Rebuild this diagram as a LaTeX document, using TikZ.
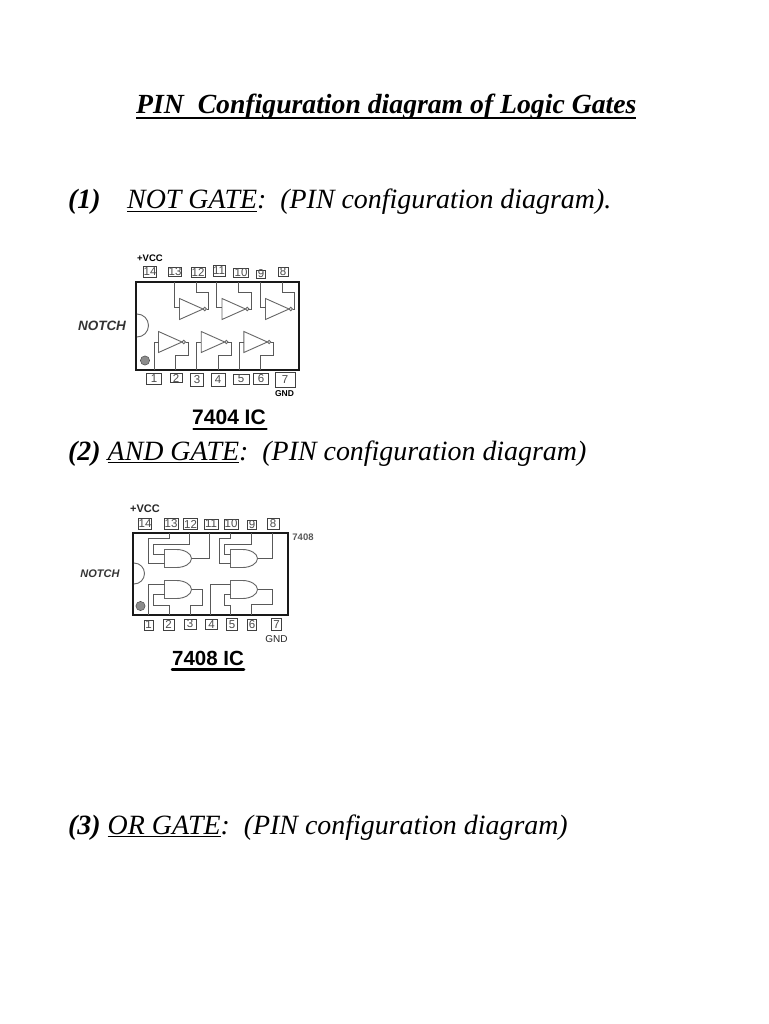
\documentclass[tikz,border=0pt]{standalone}
\usepackage{fontspec}
\setmainfont{Liberation Serif}
\setsansfont{Liberation Sans}
\newcommand{\ulx}[1]{\setbox0=\hbox{#1}\rlap{\rule[-3.2pt]{\wd0}{1.4pt}}\box0}
\newcommand{\ulxt}[1]{\setbox0=\hbox{#1}\rlap{\rule[-4.6pt]{\wd0}{2pt}}\box0}
\tikzset{
  x=1pt,y=-1pt,
  doc/.style={anchor=base west,inner sep=0pt,font=\fontsize{27.9}{30}\selectfont\itshape},
  wire/.style={draw=black!65,line width=1pt},
  chip/.style={draw=black!90,line width=2pt},
  gatebody/.style={draw=black!60,line width=0.9pt},
  pinbox/.style={draw=black!75,line width=0.8pt,inner sep=0pt,font=\sffamily\fontsize{11.5}{11.5}\selectfont,text=black!70},
  lab/.style={inner sep=0pt,font=\sffamily\bfseries\fontsize{8}{8}\selectfont},
  notch/.style={inner sep=0pt,font=\sffamily\bfseries\itshape\fontsize{11}{11}\selectfont,text=black!80},
  icname/.style={inner sep=0pt,font=\sffamily\bfseries\fontsize{21}{21}\selectfont},
  icline/.style={line width=2.5pt,line cap=round},
}
\newcommand{\pinn}[6]{\node[pinbox,minimum width=#4pt,minimum height=#5pt] (#1) at (#2,#3) {#6};}
\newcommand{\inv}[2]{%
  \draw[gatebody] (#1,#2-10.5) -- (#1,#2+10.5) -- (#1+23.5,#2) -- cycle;
  \draw[gatebody] (#1+25.2,#2) circle (1.7);}
\newcommand{\andg}[2]{%
  \draw[gatebody] (#1+12,#2-9) -- (#1,#2-9) -- (#1,#2+9) -- (#1+12,#2+9)
     .. controls (#1+20,#2+9) and (#1+27,#2+5) .. (#1+27,#2)
     .. controls (#1+27,#2-5) and (#1+20,#2-9) .. (#1+12,#2-9);}
\begin{document}
\begin{tikzpicture}
\useasboundingbox (0,0) rectangle (768,1024);
\fill[white] (0,0) rectangle (768,1024);
% document text
\node[doc,font=\fontsize{27.7}{30}\selectfont\itshape\bfseries] (title) at (136,114) {\ulxt{PIN\ \ Configuration diagram of Logic Gates}};
\node[doc] (h1) at (68,209) {\textbf{(1)}};
\node[doc] (h1b) at (127,209) {\ulx{NOT GATE}:\ \ (PIN configuration diagram).};
\node[doc] (h2) at (68,460) {\textbf{(2)} \ulx{AND GATE}:\ \ (PIN configuration diagram)};
\node[doc] (h3) at (68,834) {\textbf{(3)} \ulx{OR GATE}:\ \ (PIN configuration diagram)};
% ---------- 7404 ----------
\draw[chip] (136,282) rectangle (299,370);
\draw[gatebody,line width=0.9pt] (137,314) arc[start angle=-90,end angle=90,radius=11.5];
\fill[black!45] (145,360.5) circle (4.6);
\draw[black!70,line width=0.5pt] (145,360.5) circle (4.6);
\pinn{a14}{150}{272}{13}{11}{14}
\pinn{a13}{175}{272}{13}{9.5}{13}
\pinn{a12}{198}{272}{14}{10}{12}
\pinn{a11}{219}{271}{12}{11}{11}
\pinn{a10}{241}{273}{15}{9.5}{10}
\pinn{a9}{261}{274}{9}{8}{9}
\pinn{a8}{283}{272}{10}{9.5}{8}
\pinn{a1}{154}{379}{15.5}{10.5}{1}
\pinn{a2}{176}{378}{12}{9.5}{2}
\pinn{a3}{197}{380}{12.5}{13}{3}
\pinn{a4}{218}{380}{14}{12.5}{4}
\pinn{a5}{241}{379}{16}{10}{5}
\pinn{a6}{261}{379}{14.5}{10.5}{6}
\pinn{a7}{285}{380}{20}{14.5}{7}
\foreach \d in {0,42.5,86}{
  \inv{179.5+\d}{309}
  \draw[wire] (174+\d,282) -- (174+\d,307.5) -- (179.5+\d,307.5);
  \draw[wire] (196+\d,282) -- (196+\d,292) -- (208.5+\d,292) -- (208.5+\d,309) -- (206.5+\d,309);
}
\foreach \d in {0,42.7,85.4}{
  \inv{158.5+\d}{342}
  \draw[wire] (154+\d,370) -- (154+\d,342) -- (158.5+\d,342);
  \draw[wire] (185.5+\d,342) -- (188.5+\d,342) -- (188.5+\d,355) -- (175.5+\d,355) -- (175.5+\d,370);
}
\node[lab,font=\sffamily\bfseries\fontsize{9.5}{10}\selectfont] (avcc) at (150,258) {+VCC};
\node[lab,font=\sffamily\bfseries\fontsize{8.5}{9}\selectfont] (agnd) at (284.5,393.5) {GND};
\node[notch,font=\sffamily\bfseries\itshape\fontsize{13.5}{14}\selectfont] (anotch) at (102,326) {NOTCH};
\node[icname] (aname) at (229,417) {7404 IC};
\draw[icline] (193.5,429) -- (266.5,429);
% ---------- 7408 ----------
\draw[chip] (133,533) rectangle (288,615);
\draw[gatebody,line width=0.9pt] (134,563) arc[start angle=-90,end angle=90,radius=10.5];
\fill[black!45] (140.5,606) circle (4.6);
\draw[black!70,line width=0.5pt] (140.5,606) circle (4.6);
\pinn{b14}{145}{524}{13.5}{11}{14}
\pinn{b13}{171}{524}{14}{11}{13}
\pinn{b12}{190.5}{524}{13.5}{11}{12}
\pinn{b11}{211}{524}{14}{10}{11}
\pinn{b10}{231}{524}{14}{10}{10}
\pinn{b9}{252}{525}{9.5}{9}{9}
\pinn{b8}{273}{523.5}{12}{11}{8}
\pinn{b1}{148.5}{625}{9}{10}{1}
\pinn{b2}{168.5}{624.5}{11}{11}{2}
\pinn{b3}{190}{624}{12}{10}{3}
\pinn{b4}{211.5}{624.5}{11.5}{9.5}{4}
\pinn{b5}{232}{624.5}{11.5}{11.5}{5}
\pinn{b6}{252}{624.5}{9}{11}{6}
\pinn{b7}{276.5}{624.5}{10.5}{11.5}{7}
\andg{164.5}{558.5}
\andg{230.5}{558.5}
\andg{164.5}{589.5}
\andg{230.5}{589.5}
% upper left
\draw[wire] (169.5,533) -- (169.5,538) -- (148.5,538) -- (148.5,563.5) -- (164.5,563.5);
\draw[wire] (189.5,533) -- (189.5,544.5) -- (153.5,544.5) -- (153.5,554) -- (164.5,554);
\draw[wire] (191.5,558.5) -- (209,558.5) -- (209,533);
% upper right
\draw[wire] (230,533) -- (230,538) -- (219,538) -- (219,563.5) -- (230.5,563.5);
\draw[wire] (251,533) -- (251,544.5) -- (224,544.5) -- (224,554) -- (230.5,554);
\draw[wire] (257.5,558.5) -- (272.5,558.5) -- (272.5,533);
% lower left
\draw[wire] (148.5,615) -- (148.5,584.5) -- (164.5,584.5);
\draw[wire] (169.5,615) -- (169.5,605) -- (153.5,605) -- (153.5,594) -- (164.5,594);
\draw[wire] (191.5,589.5) -- (202.5,589.5) -- (202.5,605) -- (190.5,605) -- (190.5,615);
% lower right
\draw[wire] (210,615) -- (210,584.5) -- (230.5,584.5);
\draw[wire] (230.5,615) -- (230.5,605) -- (224,605) -- (224,594) -- (230.5,594);
\draw[wire] (257.5,589.5) -- (272.5,589.5) -- (272.5,604.5) -- (251.5,604.5) -- (251.5,615);
\node[lab,font=\sffamily\bfseries\fontsize{11}{11}\selectfont,text=black!85] (bvcc) at (145,509) {+VCC};
\node[lab,font=\sffamily\fontsize{10}{10}\selectfont,text=black!85] (bgnd) at (276.5,639.5) {GND};
\node[lab,font=\sffamily\bfseries\fontsize{9.5}{10}\selectfont,text=black!65] (b7408) at (303,537) {7408};
\node[notch] (bnotch) at (100,574) {NOTCH};
\node[icname,font=\sffamily\bfseries\fontsize{20.5}{21}\selectfont] (bname) at (208,658) {7408 IC};
\draw[icline] (172,669.5) -- (244,669.5);
\end{tikzpicture}
\end{document}
